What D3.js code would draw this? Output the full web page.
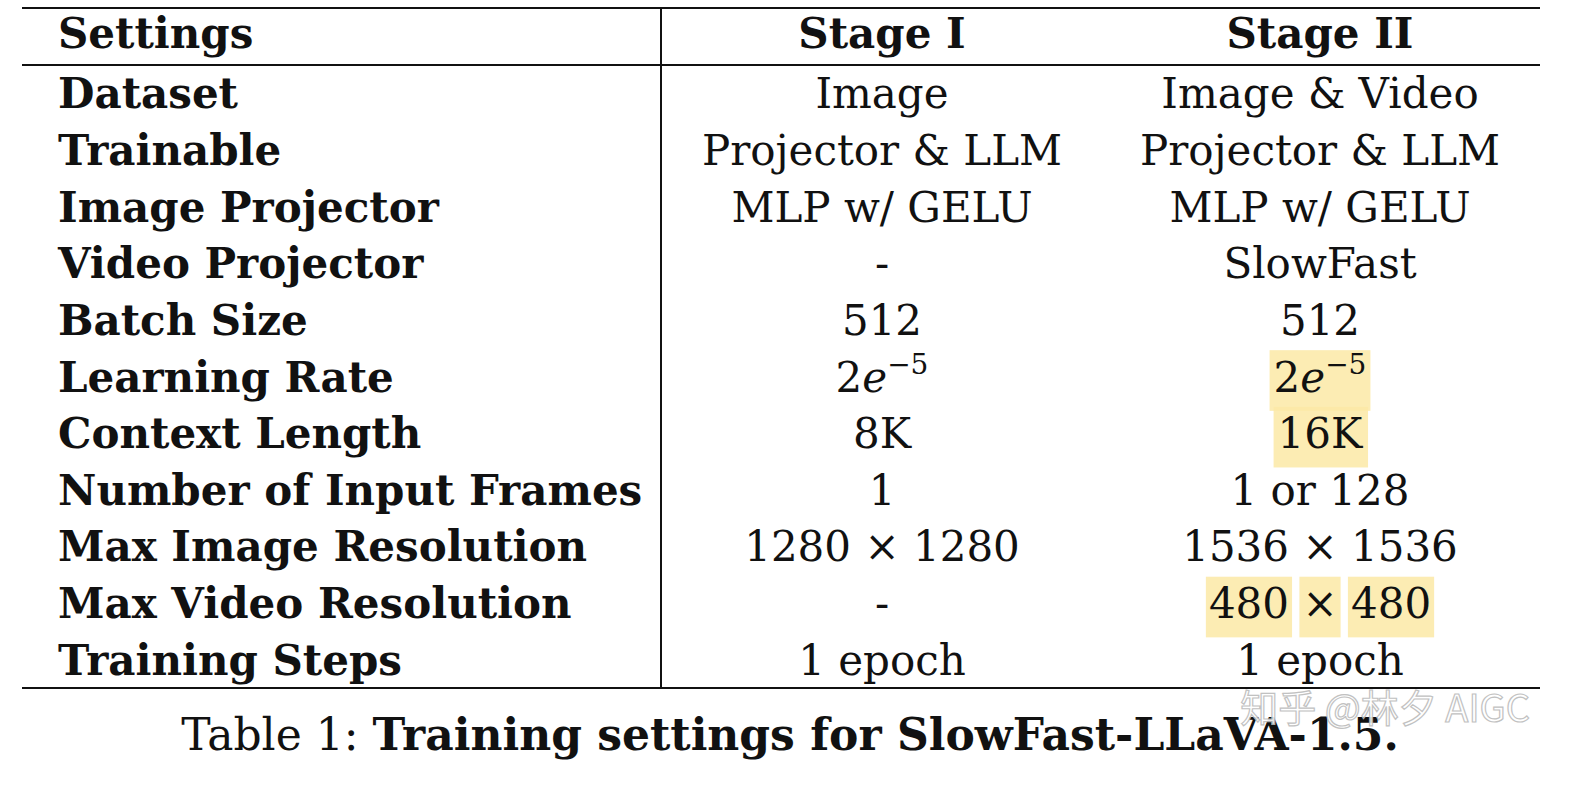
<!DOCTYPE html>
<html><head><meta charset="utf-8">
<script src="https://cdn.jsdelivr.net/npm/d3@7.9.0/dist/d3.min.js"></script>
<style>body{margin:0;background:#fff}</style>
</head><body>
<svg id="c" width="1592" height="786"></svg>
<script>
// table content
const headers = ['Settings', 'Stage I', 'Stage II'];
const settings = ['Dataset', 'Trainable', 'Image Projector', 'Video Projector', 'Batch Size',
  'Learning Rate', 'Context Length', 'Number of Input Frames', 'Max Image Resolution',
  'Max Video Resolution', 'Training Steps'];
const stage1 = ['Image', 'Projector & LLM', 'MLP w/ GELU', '-', '512', '2e-5', '8K', '1',
  '1280 × 1280', '-', '1 epoch'];
const stage2 = ['Image & Video', 'Projector & LLM', 'MLP w/ GELU', 'SlowFast', '512', '2e-5', '16K',
  '1 or 128', '1536 × 1536', '480 × 480', '1 epoch'];
// highlighted cells in stage II (row indices)
const highlighted = [5, 6, 9];

const svg = d3.select('#c');
const font = "'DejaVu Serif', serif";
const x0 = 22, x1 = 1540, xSep = 661;
const colX = {s: 58, a: 882, b: 1320};

const y = d3.scaleBand().domain(d3.range(settings.length)).range([65, 688]);
const hl = '#fbe9a6';
const hlLayer = svg.append('g');

// rules
[8, 65, 688].forEach(ly => svg.append('line').attr('x1', x0).attr('x2', x1).attr('y1', ly).attr('y2', ly).attr('stroke', '#111').attr('stroke-width', 2));
svg.append('line').attr('x1', xSep).attr('x2', xSep).attr('y1', 8).attr('y2', 688).attr('stroke', '#111').attr('stroke-width', 2);

function cell(txt, x, yy, anchor, bold) {
  const t = svg.append('text').attr('x', x).attr('y', yy).attr('text-anchor', anchor)
    .attr('font-family', font).attr('font-size', 42).attr('font-weight', bold ? 'bold' : 'normal').attr('fill', '#111');
  if (txt === '2e-5') {
    t.append('tspan').text('2');
    t.append('tspan').attr('font-style', 'italic').text('e');
    t.append('tspan').attr('font-size', 28).attr('dy', -18).text('−5');
  } else t.text(txt);
  return t;
}

cell(headers[0], colX.s, 48, 'start', true);
cell(headers[1], colX.a, 48, 'middle', true);
cell(headers[2], colX.b, 48, 'middle', true);

settings.forEach((s, i) => {
  const by = y(i) + y.bandwidth() / 2 + 15;
  cell(s, colX.s, by, 'start', true);
  cell(stage1[i], colX.a, by, 'middle', false);
  const t = cell(stage2[i], colX.b, by, 'middle', false);
  if (highlighted.includes(i)) {
    const node = t.node(), bb = node.getBBox();
    const box = (bx, bw) => hlLayer.append('rect').attr('x', bx).attr('y', y(i) + 2)
      .attr('width', bw).attr('height', y.bandwidth() + 4).attr('fill', hl).attr('opacity', 0.85);
    if (stage2[i].includes('×')) {
      // one box per token
      let start = 0;
      stage2[i].split(' ').forEach(tok => {
        const s0 = node.getStartPositionOfChar(start).x;
        const w = node.getSubStringLength(start, tok.length);
        box(s0 - 3, w + 6);
        start += tok.length + 1;
      });
    } else box(bb.x - 4, bb.width + 8);
  }
});

// caption
const cap = svg.append('text').attr('x', 790).attr('y', 750).attr('text-anchor', 'middle')
  .attr('font-family', font).attr('font-size', 44).attr('fill', '#111');
cap.append('tspan').text('Table 1: ');
cap.append('tspan').attr('font-weight', 'bold').text('Training settings for SlowFast-LLaVA-1.5.');

// watermark
svg.append('text').attr('x', 1530).attr('y', 722).attr('text-anchor', 'end')
  .attr('font-family', "'Noto Sans CJK SC', sans-serif").attr('font-size', 38)
  .attr('fill', '#fff').attr('stroke', '#bbb').attr('stroke-width', 1.2).attr('opacity', 0.9)
  .text('知乎 @林夕 AIGC');
</script>
</body></html>
